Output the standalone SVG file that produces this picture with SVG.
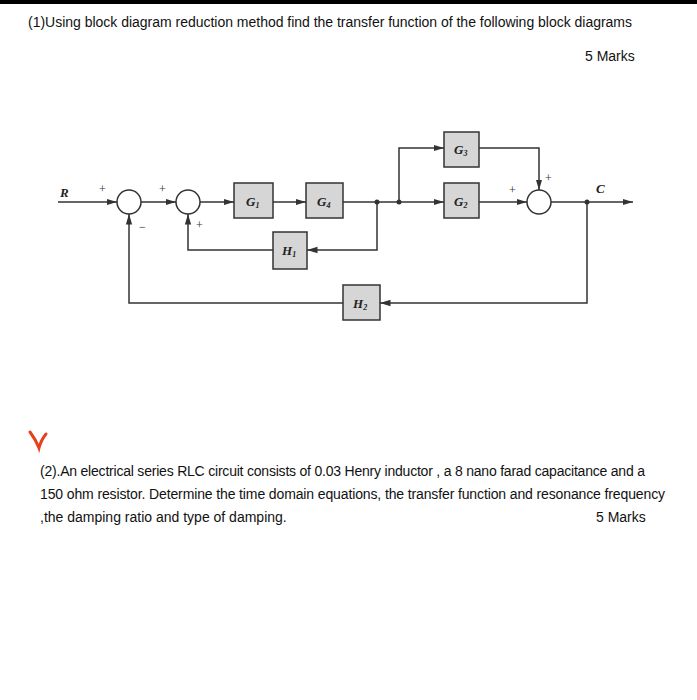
<svg xmlns="http://www.w3.org/2000/svg" width="697" height="700" viewBox="0 0 697 700">
<style>
.t{font-family:"Liberation Sans",Arial,sans-serif;font-size:14px;fill:#111}
.b{fill:#d6d6d6;stroke:#333;stroke-width:1.5}
.s{fill:#fff;stroke:#333;stroke-width:1.5}
.l{font-family:"Liberation Serif",serif;font-style:italic;font-weight:bold;font-size:13px;fill:#222}
.sub{font-size:8px}
.p{font-family:"Liberation Serif",serif;font-size:12px;fill:#333}
.c{fill:none;stroke:#333;stroke-width:1.5}
</style>
<defs><marker id="a" viewBox="0 0 10 10" refX="10" refY="5" markerWidth="7" markerHeight="7" orient="auto"><path d="M0,2 L10,5 L0,8 z" fill="#333"/></marker></defs>
<rect x="0" y="0" width="697" height="4" fill="#000"/>
<text class="t" x="28" y="27" textLength="604">(1)Using block diagram reduction method find the transfer function of the following block diagrams</text>
<text class="t" x="585" y="61">5 Marks</text>
<g id="connectors">
<path class="c" d="M58,202 H117" marker-end="url(#a)"/>
<path class="c" d="M141,202 H176" marker-end="url(#a)"/>
<path class="c" d="M200,202 H234" marker-end="url(#a)"/>
<path class="c" d="M273,202 H306" marker-end="url(#a)"/>
<path class="c" d="M343,202 H444" marker-end="url(#a)"/>
<path class="c" d="M399,202 V148 H444" marker-end="url(#a)"/>
<path class="c" d="M479,148 H539 V190" marker-end="url(#a)"/>
<path class="c" d="M479,202 H527" marker-end="url(#a)"/>
<path class="c" d="M551,202 H633" marker-end="url(#a)"/>
<path class="c" d="M377,202 V250 H307" marker-end="url(#a)"/>
<path class="c" d="M273,250 H188 V214" marker-end="url(#a)"/>
<path class="c" d="M587,202 V303 H380" marker-end="url(#a)"/>
<path class="c" d="M343,303 H129 V214" marker-end="url(#a)"/>
<circle cx="377" cy="202" r="2.5" fill="#333"/>
<circle cx="399" cy="202" r="2.5" fill="#333"/>
<circle cx="587" cy="202" r="2.5" fill="#333"/>
</g>
<g id="sum1"><circle class="s" cx="129" cy="202" r="12"/></g>
<g id="sum2"><circle class="s" cx="188" cy="202" r="12"/></g>
<g id="sum3"><circle class="s" cx="539" cy="202" r="12"/></g>
<g id="G1"><rect class="b" x="234" y="183" width="39" height="35"/><text class="l" x="246" y="206">G<tspan class="sub" dy="2">1</tspan></text></g>
<g id="G4"><rect class="b" x="306" y="183" width="37" height="35"/><text class="l" x="317" y="206">G<tspan class="sub" dy="2">4</tspan></text></g>
<g id="G3"><rect class="b" x="444" y="132" width="35" height="35"/><text class="l" x="454" y="154">G<tspan class="sub" dy="2">3</tspan></text></g>
<g id="G2"><rect class="b" x="444" y="183" width="35" height="35"/><text class="l" x="454" y="206">G<tspan class="sub" dy="2">2</tspan></text></g>
<g id="H1"><rect class="b" x="273" y="232" width="34" height="37"/><text class="l" x="282" y="255">H<tspan class="sub" dy="2">1</tspan></text></g>
<g id="H2"><rect class="b" x="343" y="285" width="37" height="35"/><text class="l" x="353" y="308">H<tspan class="sub" dy="2">2</tspan></text></g>
<text class="l" x="60" y="197">R</text>
<text class="l" x="596" y="193">C</text>
<text class="p" x="99" y="193">+</text>
<text class="p" x="159" y="193">+</text>
<text class="p" x="196" y="229">+</text>
<text class="p" x="139" y="231">−</text>
<text class="p" x="509" y="194">+</text>
<text class="p" x="545" y="182">+</text>
<path d="M30,432 Q36,440 39,448 Q41,440 46,434" fill="none" stroke="#e8401c" stroke-width="3" stroke-linecap="round"/>
<text class="t" x="40" y="476" textLength="605">(2).An electrical series RLC circuit consists of 0.03 Henry inductor , a   8 nano farad capacitance and  a</text>
<text class="t" x="40" y="499" textLength="625">150 ohm resistor. Determine the time domain equations, the transfer function and resonance frequency</text>
<text class="t" x="40" y="522">,the damping ratio and type of damping.</text>
<text class="t" x="596" y="522">5 Marks</text>
</svg>
